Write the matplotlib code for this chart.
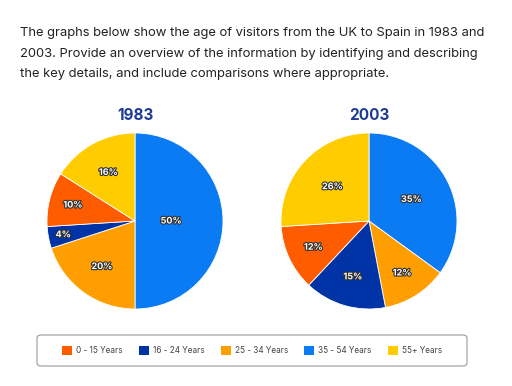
import numpy as np
import matplotlib.pyplot as plt
import matplotlib.patheffects as pe
from matplotlib.patches import Patch, FancyBboxPatch

# data
groups = ["0 - 15 Years", "16 - 24 Years", "25 - 34 Years", "35 - 54 Years", "55+ Years"]
colors = ["#FF5C00", "#0033A6", "#FF9E00", "#0A7BF2", "#FFCC00"]
share_1983 = [10, 4, 20, 50, 16]
share_2003 = [12, 15, 12, 35, 26]
# clockwise order from 12 o'clock as drawn in the picture
order = [3, 2, 1, 0, 4]
lab_r_1983 = [0.41, 0.64, 0.83, 0.73, 0.63]
lab_r_2003 = [0.54, 0.70, 0.66, 0.70, 0.57]

W, H = 512, 386
fig = plt.figure(figsize=(W / 100, H / 100), dpi=100)
plt.rcParams['font.family'] = ['Inter', 'DejaVu Sans']

fig.text(20 / W, 1 - 27 / H,
         "The graphs below show the age of visitors from the UK to Spain in 1983 and\n"
         "2003. Provide an overview of the information by identifying and describing\n"
         "the key details, and include comparisons where appropriate.",
         fontsize=9.35, color="#222222", va="top", ha="left", linespacing=1.95)


def draw_pie(cx, cy, r, vals, radii, title):
    ax = fig.add_axes([(cx - r) / W, 1 - (cy + r) / H, 2 * r / W, 2 * r / H])
    v = [vals[i] for i in order]
    c = [colors[i] for i in order]
    wedges, _ = ax.pie(v, colors=c, startangle=90, counterclock=False,
                       wedgeprops=dict(edgecolor="white", linewidth=0.6))
    ax.set_xlim(-1, 1)
    ax.set_ylim(-1, 1)
    for w, val, rr in zip(wedges, v, radii):
        ang = np.deg2rad((w.theta1 + w.theta2) / 2)
        ax.text(rr * np.cos(ang), rr * np.sin(ang), f"{val}%", ha="center", va="center",
                fontsize=6.5, fontweight="bold", color="white",
                path_effects=[pe.withStroke(linewidth=1.6, foreground="#333333")])
    fig.text(cx / W, 1 - 116 / H, title, ha="center", va="center",
             fontsize=11, fontweight="bold", color="#1F3C94")


draw_pie(135, 221, 88, share_1983, lab_r_1983, "1983")
draw_pie(369, 221, 88, share_2003, lab_r_2003, "2003")

# legend frame
box = FancyBboxPatch((37 / W, 1 - 366 / H), 430 / W, 31 / H,
                     boxstyle="round,pad=0,rounding_size=0.008",
                     transform=fig.transFigure, facecolor="white",
                     edgecolor="#999999", linewidth=0.8)
fig.patches.append(box)

handles = [Patch(facecolor=c, edgecolor="none") for c in colors]
leg = fig.legend(handles, groups, loc="center", ncol=5,
                 bbox_to_anchor=(252 / W, 1 - 350.5 / H), frameon=False,
                 fontsize=5.9, handlelength=1.25, handleheight=1.25,
                 handletextpad=0.5, columnspacing=1.95, borderpad=0,
                 borderaxespad=0, labelcolor="#444444")

fig.savefig("out.png", dpi=100)
